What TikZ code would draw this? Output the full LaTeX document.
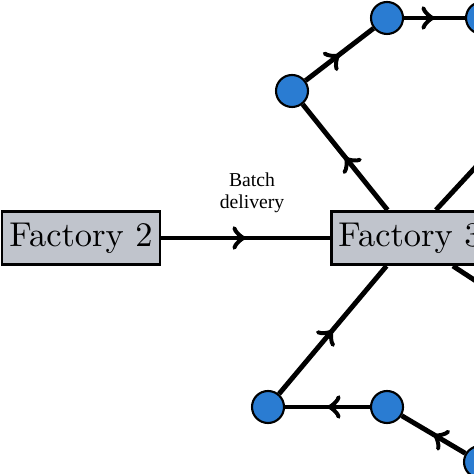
\documentclass[tikz,border=0pt]{standalone}
\usepackage{fontspec}
\usepackage{tikz}
\usetikzlibrary{decorations.markings}

\newfontfamily\labelfont{Liberation Serif}
\definecolor{boxgray}{RGB}{192,196,204}
\definecolor{stopblue}{RGB}{42,124,210}

\begin{document}
\begin{tikzpicture}[x=0.1mm,y=-0.1mm]
\tikzstyle{factory}=[draw, line width=0.85pt, fill=boxgray, minimum width=15.8mm, minimum height=5.3mm, inner sep=0pt, font=\fontsize{9.8}{11}\selectfont]
\tikzstyle{stop}=[circle, draw, line width=0.6pt, fill=stopblue, minimum size=3.2mm, inner sep=0pt]
\tikzstyle{flow}=[line width=1.4pt, postaction={decorate}, decoration={markings, mark=at position 0.5 with {\arrow{>}}}]
\useasboundingbox (0,0) rectangle (474,474);
\node[factory] (f2) at (81,238) {Factory 2};
\node[factory] (f3) at (410,238) {Factory 3};
\node[stop] (a) at (292,91) {};
\node[stop] (b) at (387,18) {};
\node[stop] (c) at (482,18) {};
\node[stop] (d) at (268,407) {};
\node[stop] (e) at (387,407) {};
\node[stop] (g) at (480,462) {};
\coordinate (up) at (521,118);
\coordinate (dn) at (505,300);
\draw[flow] (f2) -- (f3);
\node[font=\labelfont\fontsize{5.6}{6.3}\selectfont, align=center] (lbl) at (252,193) {Batch\\delivery};
\draw[flow] (f3) -- (a);
\draw[flow] (a) -- (b);
\draw[flow] (b) -- (c);
\draw[flow] (g) -- (e);
\draw[flow] (e) -- (d);
\draw[flow] (d) -- (f3);
\draw[line width=1.4pt] (f3) -- (up);
\draw[line width=1.4pt] (f3) -- (dn);
\end{tikzpicture}
\end{document}
